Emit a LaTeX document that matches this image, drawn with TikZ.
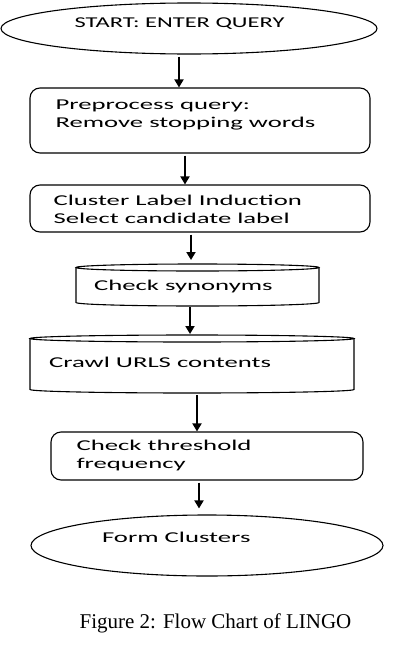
\documentclass[tikz,border=0pt]{standalone}
\usepackage{fontspec}
\setmainfont{Liberation Serif}
\newfontfamily\labfont[FakeStretch=1.78]{Carlito}
\newfontfamily\startfont[FakeStretch=1.63]{Carlito}
\usetikzlibrary{shapes.geometric,arrows.meta,calc}
\begin{document}
\begin{tikzpicture}[x=1pt,y=-1pt,line width=1.1pt,
  lab/.style={font=\labfont\fontsize{15}{18}\selectfont,inner sep=0pt,anchor=base west},
  rbox/.style={draw,rounded corners=10pt,inner sep=0pt},
  oval/.style={draw,ellipse,inner sep=0pt},
  frame/.style={inner sep=0pt,outer sep=0pt},
  arr/.style={line width=1.8pt,-{Triangle[length=8pt,width=9pt]}}]
\useasboundingbox (0,0) rectangle (418,664);

% start ellipse
\node[oval,minimum width=376pt,minimum height=51pt] (e1) at (189,28.5) {};
\node[lab,font=\startfont\fontsize{15}{18}\selectfont,anchor=base] (t1) at (179.5,27) {START: ENTER QUERY};

% box 1
\node[rbox,minimum width=340pt,minimum height=65pt] (b1) at (200,120.5) {};
\node[lab] (t2a) at (55,109) {Preprocess query:};
\node[lab] (t2b) at (55,127.5) {Remove stopping words};

% box 2
\node[rbox,minimum width=340pt,minimum height=47pt] (b2) at (200,208.5) {};
\node[lab] (t3a) at (53,205) {Cluster Label Induction};
\node[lab] (t3b) at (53,223) {Select candidate label};

% cylinder 1
\node[frame,minimum width=243pt,minimum height=42pt] (c1) at (197.5,285) {};
\draw ($(c1.north)+(0,3.5)$) ellipse [x radius=121.5,y radius=3.5];
\draw ($(c1.north west)+(0,3.5)$) -- ($(c1.south west)+(0,-3.5)$)
  arc[start angle=180,end angle=0,x radius=121.5,y radius=3.5]
  -- ($(c1.north east)+(0,3.5)$);
\node[lab] (t4) at (93.5,290.5) {Check synonyms};

% cylinder 2
\node[frame,minimum width=324pt,minimum height=58pt] (c2) at (192,364) {};
\draw ($(c2.north)+(0,3.5)$) ellipse [x radius=162,y radius=3.5];
\draw ($(c2.north west)+(0,3.5)$) -- ($(c2.south west)+(0,-3.5)$)
  arc[start angle=180,end angle=0,x radius=162,y radius=3.5]
  -- ($(c2.north east)+(0,3.5)$);
\node[lab] (t5) at (48.5,367) {Crawl URLS contents};

% box 3
\node[rbox,minimum width=312pt,minimum height=48pt] (b3) at (207,456) {};
\node[lab] (t6a) at (76,450) {Check threshold};
\node[lab] (t6b) at (76,468) {frequency};

% end ellipse
\node[oval,minimum width=352pt,minimum height=61pt] (e2) at (207,545.5) {};
\node[lab] (t7) at (101.5,542.5) {Form Clusters};

% caption
\node[inner sep=0pt,anchor=base,font=\fontsize{21}{24}\selectfont] (cap) at (215.5,628) {Figure 2: Flow Chart of LINGO};

% arrows
\draw[arr,shorten <=2pt] (e1.south -| 179,0) -- (b1.north -| 179,0);
\draw[arr,shorten <=2pt] (b1.south -| 185,0) -- (b2.north -| 185,0);
\draw[arr,shorten <=2pt,shorten >=4pt] (b2.south -| 191,0) -- (c1.north -| 191,0);
\draw[arr,shorten <=1pt,shorten >=1pt] (c1.south -| 190,0) -- (c2.north -| 190,0);
\draw[arr,shorten <=2pt] (c2.south -| 197,0) -- (b3.north -| 197,0);
\draw[arr,shorten <=2pt,shorten >=6pt] (b3.south -| 199,0) -- (e2.north -| 199,0);
\end{tikzpicture}
\end{document}
